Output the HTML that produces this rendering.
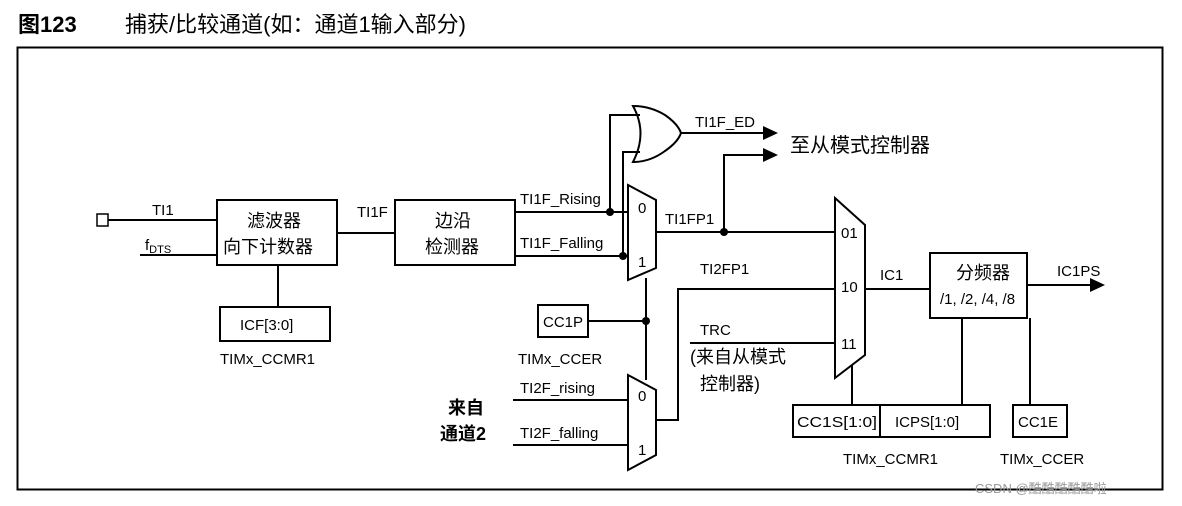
<!DOCTYPE html>
<html><head><meta charset="utf-8"><style>
body{margin:0;background:#fff;}
svg{display:block;}
text{font-family:"Liberation Sans","Noto Sans CJK SC",sans-serif;fill:#000;}
</style></head><body>
<svg width="1182" height="506" viewBox="0 0 1182 506" xmlns="http://www.w3.org/2000/svg">
<text x="18" y="32" font-size="22" font-weight="bold">图123</text>
<text x="125" y="32" font-size="22">捕获/比较通道(如：通道1输入部分)</text>
<rect x="17.5" y="47.5" width="1145" height="442" fill="none" stroke="#000" stroke-width="2"/>
<g stroke="#000" stroke-width="2" fill="none">
<rect x="97" y="214" width="11" height="12" stroke-width="1.5"/>
<line x1="108" y1="220" x2="217" y2="220"/>
<line x1="140" y1="255" x2="217" y2="255"/>
<rect x="217" y="200" width="120" height="65"/>
<line x1="278" y1="265" x2="278" y2="307"/>
<rect x="220" y="307" width="110" height="34"/>
<line x1="337" y1="233" x2="395" y2="233"/>
<rect x="395" y="200" width="120" height="65"/>
<line x1="515" y1="212" x2="628" y2="212"/>
<line x1="515" y1="256" x2="628" y2="256"/>
<polyline points="610,212 610,115 640,115"/>
<polyline points="623,256 623,152 640,152"/>
<path d="M633,106 Q650,106 665,115 Q678,124 681,133 Q678,142 665,151 Q650,162 633,162 Q648,133 633,106 Z"/>
<line x1="681" y1="133" x2="765" y2="133"/>
<polyline points="724,232 724,155 765,155"/>
<polygon points="628,185 656,200 656,268 628,280" />
<line x1="656" y1="232" x2="835" y2="232"/>
<line x1="646" y1="278" x2="646" y2="380"/>
<rect x="538" y="305" width="50" height="32"/>
<line x1="588" y1="321" x2="646" y2="321"/>
<polygon points="628,375 656,390 656,455 628,470"/>
<line x1="513" y1="400" x2="628" y2="400"/>
<line x1="513" y1="445" x2="628" y2="445"/>
<polyline points="656,420 678,420 678,289 835,289"/>
<line x1="690" y1="343" x2="835" y2="343"/>
<polygon points="835,198 865,225 865,355 835,378"/>
<line x1="865" y1="289" x2="930" y2="289"/>
<rect x="930" y="253" width="97" height="65"/>
<line x1="1027" y1="285" x2="1092" y2="285"/>
<line x1="852" y1="365" x2="852" y2="405"/>
<line x1="962" y1="318" x2="962" y2="405"/>
<line x1="1030" y1="318" x2="1030" y2="405"/>
<rect x="793" y="405" width="87" height="32"/>
<rect x="880" y="405" width="110" height="32"/>
<rect x="1013" y="405" width="54" height="32"/>
</g>
<g fill="#000">
<circle cx="610" cy="212" r="4"/><circle cx="623" cy="256" r="4"/>
<circle cx="724" cy="232" r="4"/><circle cx="646" cy="321" r="4"/>
<polygon points="763,126 778,133 763,140"/>
<polygon points="763,148 778,155 763,162"/>
<polygon points="1090,278 1105,285 1090,292"/>
</g>
<g font-size="15">
<text x="152" y="215">TI1</text>
<text x="145" y="250">f<tspan font-size="11" dy="3">DTS</tspan></text>
<text x="357" y="217">TI1F</text>
<text x="520" y="204">TI1F_Rising</text>
<text x="520" y="248">TI1F_Falling</text>
<text x="695" y="127">TI1F_ED</text>
<text x="665" y="224">TI1FP1</text>
<text x="700" y="274">TI2FP1</text>
<text x="700" y="335">TRC</text>
<text x="520" y="393">TI2F_rising</text>
<text x="520" y="438">TI2F_falling</text>
<text x="638" y="213">0</text><text x="638" y="267">1</text>
<text x="638" y="401">0</text><text x="638" y="455">1</text>
<text x="841" y="238">01</text><text x="841" y="292">10</text><text x="841" y="349">11</text>
<text x="880" y="280">IC1</text>
<text x="1057" y="276">IC1PS</text>
<text x="240" y="330">ICF[3:0]</text>
<text x="543" y="327" textLength="40" lengthAdjust="spacingAndGlyphs">CC1P</text>
<text x="220" y="364">TIMx_CCMR1</text>
<text x="518" y="364">TIMx_CCER</text>
<text x="797" y="427" textLength="80" lengthAdjust="spacingAndGlyphs">CC1S[1:0]</text>
<text x="895" y="427">ICPS[1:0]</text>
<text x="1018" y="427">CC1E</text>
<text x="843" y="464">TIMx_CCMR1</text>
<text x="1000" y="464">TIMx_CCER</text>
<text x="940" y="304">/1, /2, /4, /8</text>
</g>
<g font-size="18">
<text x="247" y="227">滤波器</text>
<text x="223" y="253">向下计数器</text>
<text x="435" y="227">边沿</text>
<text x="425" y="253">检测器</text>
<text x="956" y="279">分频器</text>
<text x="690" y="363">(来自从模式</text>
<text x="700" y="390">控制器)</text>
<text x="448" y="414" font-weight="bold">来自</text>
<text x="440" y="440" font-weight="bold">通道2</text>
</g>
<text x="790" y="152" font-size="20">至从模式控制器</text>
<text x="975" y="493" font-size="13" style="fill:#999">CSDN @酷酷酷酷酷啦</text>
</svg>
</body></html>
